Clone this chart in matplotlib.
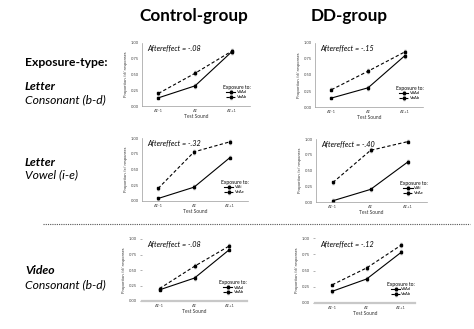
import matplotlib
matplotlib.use("Agg")
import matplotlib.pyplot as plt

plt.rcParams['font.family'] = ['Lato', 'DejaVu Sans']

W, H = 474, 329

# Datos: proporcion de respuestas por sonido de prueba
sonidos = ['AT-1', 'AT', 'AT+1']
grupos = ['Control-group', 'DD-group']

# fila 1: letra consonante (b-d)
ctrl_cons_solid = [0.13, 0.32, 0.86]
ctrl_cons_dash = [0.20, 0.52, 0.87]
dd_cons_solid = [0.14, 0.30, 0.80]
dd_cons_dash = [0.27, 0.56, 0.86]
# fila 2: letra vocal (i-e)
ctrl_vow_solid = [0.04, 0.22, 0.69]
ctrl_vow_dash = [0.20, 0.78, 0.94]
dd_vow_solid = [0.02, 0.20, 0.64]
dd_vow_dash = [0.31, 0.82, 0.96]
# fila 3: video consonante (b-d)
ctrl_vid_solid = [0.18, 0.37, 0.83]
ctrl_vid_dash = [0.20, 0.56, 0.89]
dd_vid_solid = [0.18, 0.37, 0.78]
dd_vid_dash = [0.28, 0.54, 0.89]

err_solid = [0.02, 0.03, 0.03]
err_dash = [0.02, 0.03, 0.03]

aftereffects = [['-.08', '-.15'], ['-.32', '-.40'], ['-.08', '-.12']]
leyendas = [['VdAd', 'VbAb'], ['ViAi', 'VeAe'], ['VdAd', 'VbAb']]
ylabels = ['Proportion /d/ responses', 'Proportion /e/ responses', 'Proportion /d/ responses']

datos = [
    [(ctrl_cons_solid, ctrl_cons_dash), (dd_cons_solid, dd_cons_dash)],
    [(ctrl_vow_solid, ctrl_vow_dash), (dd_vow_solid, dd_vow_dash)],
    [(ctrl_vid_solid, ctrl_vid_dash), (dd_vid_solid, dd_vid_dash)],
]

# cajas de los ejes en pixeles (izq, der, arriba, abajo)
cajas = [
    [(142, 250, 43, 106), (315, 423, 43, 107)],
    [(142, 248, 138, 201), (316, 427, 139, 202)],
    [(142, 247, 239, 301), (315, 415, 238, 303)],
]


def rect(l, r, t, b):
    return [l / W, 1 - b / H, (r - l) / W, (b - t) / H]


fig = plt.figure(figsize=(W / 100, H / 100), dpi=100)

gris = '#9a9a9a'
for i in range(3):
    for j in range(2):
        ax = fig.add_axes(rect(*cajas[i][j]))
        solid, dash = datos[i][j]
        x = range(len(sonidos))
        ax.errorbar(x, solid, yerr=err_solid, color='black', lw=0.8, ls='-',
                    marker='s', ms=1.8, ecolor=gris, elinewidth=0.4, capsize=0.8,
                    label=leyendas[i][0])
        ax.errorbar(x, dash, yerr=err_dash, color='black', lw=0.8, ls=(0, (3, 2)),
                    marker='s', ms=1.8, ecolor=gris, elinewidth=0.4, capsize=0.8,
                    label=leyendas[i][1])
        ax.set_ylim(0, 1)
        if i == 2:
            ax.set_xlim(-0.5, 2.5 if j == 0 else 2.4)
        else:
            ax.set_xlim(-0.45, 2.5)
        ax.set_xticks(list(x))
        ax.set_xticklabels(sonidos)
        ax.set_yticks([0, 0.25, 0.5, 0.75, 1.0])
        ax.set_yticklabels(['0.00', '0.25', '0.50', '0.75', '1.00'])
        ax.tick_params(labelsize=3, colors='#444444', length=0, pad=2)
        ax.set_xlabel('Test Sound', fontsize=3.5, labelpad=1, color='#333333')
        ax.set_ylabel(ylabels[i], fontsize=3, labelpad=2, color='#333333')
        ax.spines['top'].set_visible(False)
        ax.spines['right'].set_visible(False)
        if i == 2:
            ax.spines['left'].set_visible(False)
            ax.spines['bottom'].set_color('#c8c8c8')
            ax.spines['bottom'].set_linewidth(1.6)
            ax.tick_params(axis='y', length=1.5, width=0.4, color='#777777')
        else:
            ax.spines['left'].set_color(gris)
            ax.spines['bottom'].set_color(gris)
            ax.spines['left'].set_linewidth(0.5)
            ax.spines['bottom'].set_linewidth(0.5)
        ax.text(0.05, 0.92, 'Aftereffect = ' + aftereffects[i][j], transform=ax.transAxes,
                fontsize=5.2, style='italic', va='center', ha='left')
        leg = ax.legend(loc='lower right', bbox_to_anchor=(1.03, 0.06), frameon=False,
                        fontsize=3, title='Exposure to:', title_fontsize=3.6,
                        handlelength=2.2, handletextpad=0.3, labelspacing=0.2,
                        borderpad=0.2)

# titulos de los grupos
fig.text(194 / W, 1 - 16 / H, grupos[0], fontsize=12.3, fontweight='bold', ha='center', va='center')
fig.text(349 / W, 1 - 16 / H, grupos[1], fontsize=12.3, fontweight='bold', ha='center', va='center')

# etiquetas de la izquierda
fig.text(25 / W, 1 - 63 / H, 'Exposure-type:', fontsize=8.7, fontweight='bold', va='center')
fig.text(25 / W, 1 - 87 / H, 'Letter', fontsize=8.7, fontweight='bold', style='italic', va='center')
fig.text(25 / W, 1 - 100 / H, 'Consonant (b-d)', fontsize=8.7, style='italic', va='center')
fig.text(25 / W, 1 - 162 / H, 'Letter', fontsize=8.7, fontweight='bold', style='italic', va='center')
fig.text(25 / W, 1 - 175 / H, 'Vowel (i-e)', fontsize=8.7, style='italic', va='center')
fig.text(25 / W, 1 - 270 / H, 'Video', fontsize=8.7, fontweight='bold', style='italic', va='center')
fig.text(25 / W, 1 - 285 / H, 'Consonant (b-d)', fontsize=8.7, style='italic', va='center')

# linea punteada de separacion
fig.add_artist(plt.Line2D([43 / W, 470 / W], [1 - 224 / H, 1 - 224 / H], color='#555555',
                          lw=0.8, ls=(0, (1, 1))))

fig.savefig('out.png', dpi=100)
